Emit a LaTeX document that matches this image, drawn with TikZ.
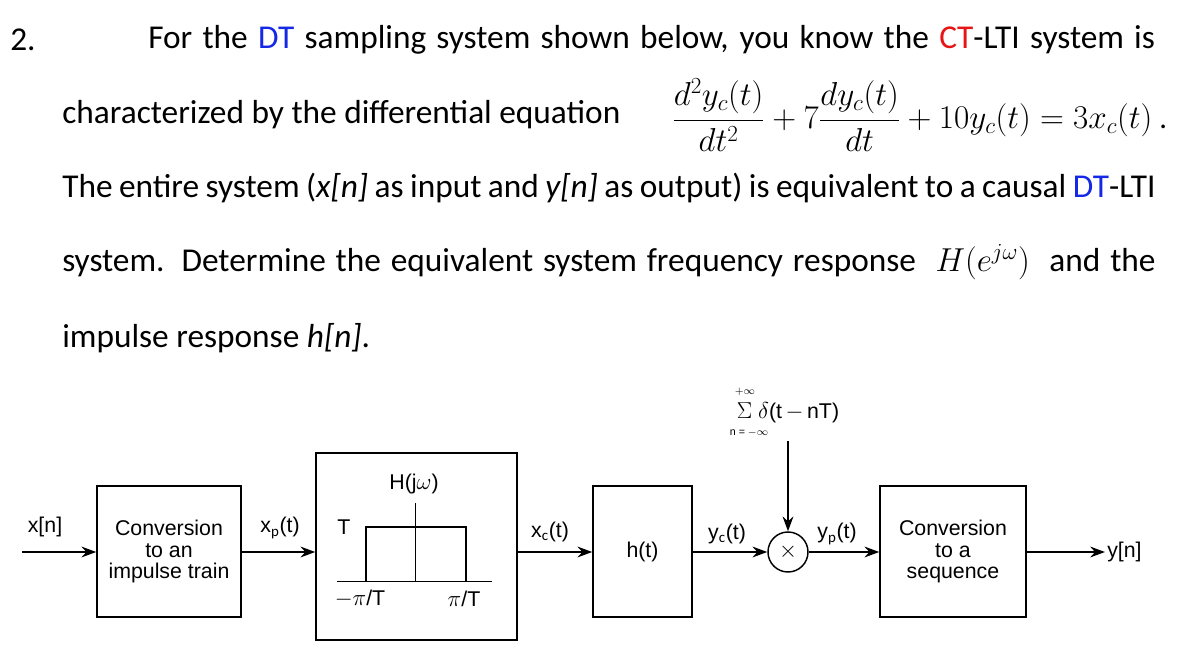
\documentclass[tikz,border=0pt]{standalone}
\usepackage{fontspec}
\setmainfont{Carlito}
\newfontfamily\diag{Liberation Sans}
\usetikzlibrary{arrows.meta}
\definecolor{dtblue}{RGB}{20,40,230}
\definecolor{ctred}{RGB}{230,20,20}
\begin{document}
\begin{tikzpicture}[x=0.75pt,y=-0.75pt,
  txt/.style={anchor=west,inner sep=0pt,font=\fontsize{25}{29}\selectfont},
  blk/.style={draw,line width=1.1pt,inner sep=0pt,font=\diag\fontsize{16}{18}\selectfont,align=center},
  lbl/.style={font=\diag\fontsize{16}{18}\selectfont,inner sep=0pt},
  sig/.style={line width=1.8pt,-{Stealth[length=11pt,width=8pt]}}]
\useasboundingbox (0,0) rectangle (1183,664);
% text
\node[txt] (n2) at (10,40) {2.};
\node[txt] (l1) at (148,40) {\makebox[755pt][s]{For the \textcolor{dtblue}{DT} sampling system shown below, you know the \textcolor{ctred}{CT}-LTI system is}};
\node[txt] (l2) at (62,115) {characterized by the differential equation};
\node[anchor=west,inner sep=0pt,font=\fontsize{23}{27}\selectfont] (eq) at (672,115) {$\displaystyle\frac{d^2y_c(t)}{dt^2}+7\frac{dy_c(t)}{dt}+10y_c(t)=3x_c(t)$\ .};
\node[txt] (l3) at (62,188) {\makebox[820pt][s]{The entire system (\textit{x[n]} as input and \textit{y[n]} as output) is equivalent to a causal \textcolor{dtblue}{DT}-LTI}};
\node[txt] (l4) at (62,262) {\makebox[820pt][s]{system. Determine the equivalent system frequency response \ $H(e^{j\omega})$\ \ and the}};
\node[txt] (l5) at (62,338) {impulse response \textit{h[n]}.};
% blocks
\node[blk,minimum width=108pt,minimum height=98.25pt] (b1) at (169,551.5) {Conversion\\[-2pt]to an\\[-2pt]impulse train};
\node[blk,minimum width=150.75pt,minimum height=140.25pt] (b2) at (416.5,546.5) {};
\node[blk,minimum width=74.25pt,minimum height=98.25pt] (b3) at (642.5,551.5) {h(t)};
\node[blk,minimum width=109.5pt,minimum height=98.25pt] (b4) at (953,551.5) {Conversion\\[-2pt]to a\\[-2pt]sequence};
\node[draw,circle,line width=1.1pt,minimum size=30pt,inner sep=0pt] (m) at (788,552) {\fontsize{17}{17}\selectfont$\times$};
% H(jw) plot
\draw[line width=0.7pt] (337,581) -- (492,581);
\draw[line width=0.7pt] (415,503) -- (415,581);
\draw[line width=2pt] (366,581) -- (366,527) -- (466,527) -- (466,581);
\node[lbl] (hj) at (414,484) {H(j$\omega$)};
\node[lbl] (tt) at (344,527) {T};
\node[lbl] (mpi) at (360,599) {$-\pi$/T};
\node[lbl] (ppi) at (464,599) {$\pi$/T};
% sum
\node[lbl] (sum) at (788,413) {$\Sigma$ $\delta$(t\,$-$\,nT)};
\node[lbl,font=\diag\fontsize{8}{8}\selectfont] (sup) at (745,392) {$+\infty$};
\node[lbl,font=\diag\fontsize{8}{8}\selectfont] (sub) at (749,433) {n = $-\infty$};
% connectors
\coordinate (in) at (22,552);
\coordinate (out) at (1105,552);
\coordinate (top) at (788,441);
\draw[sig] (in) -- (in -| b1.west);
\draw[sig] (b1.east |- in) -- (b2.west |- in);
\draw[sig] (b2.east |- in) -- (b3.west |- in);
\draw[sig] (b3.east |- in) -- (m.west);
\draw[sig] (m.east) -- (b4.west |- in);
\draw[sig] (b4.east |- in) -- (out);
\draw[sig] (top) -- (m.north);
% signal labels
\node[lbl] (xn) at (45,527) {x[n]};
\node[lbl] (xp) at (280,528) {x$_{\mathrm p}$(t)};
\node[lbl] (xc) at (550,532) {x$_{\mathrm c}$(t)};
\node[lbl] (yc) at (727,534) {y$_{\mathrm c}$(t)};
\node[lbl] (yp) at (837,534) {y$_{\mathrm p}$(t)};
\node[lbl,anchor=west] (yn) at (1107,552) {y[n]};
\end{tikzpicture}
\end{document}
